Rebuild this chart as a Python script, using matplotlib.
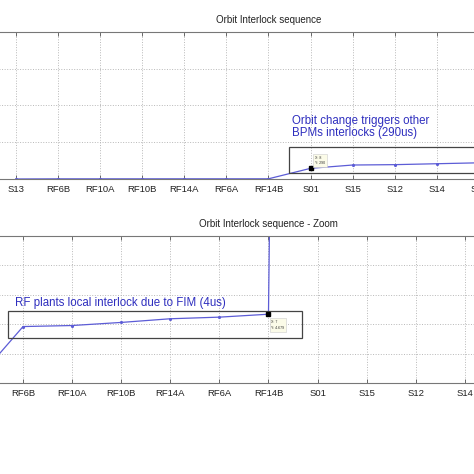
import matplotlib
matplotlib.use('Agg')
import matplotlib.pyplot as plt
from matplotlib.patches import Rectangle

plt.rcParams['font.family'] = ['Liberation Sans', 'DejaVu Sans']

# ---- data ----
labels = ['S13', 'RF6B', 'RF10A', 'RF10B', 'RF14A', 'RF6A', 'RF14B',
          'S01', 'S15', 'S12', 'S14', 'S16', 'S03']
x_index = list(range(1, 14))
delay_us = [0, 3.84, 3.91, 4.12, 4.37, 4.48, 4.679, 290, 380, 390, 415, 440, 455]

top_title = 'Orbit Interlock sequence'
zoom_title = 'Orbit Interlock sequence - Zoom'
top_note = ['Orbit change triggers other', 'BPMs interlocks (290us)']
zoom_note = 'RF plants local interlock due to FIM (4us)'

line_color = '#5c5cd6'
text_color = '#2f2fbf'

fig = plt.figure(figsize=(4.74, 4.74), dpi=100)
fig.patch.set_facecolor('white')


def style(ax, xlim, ylim, yticks):
    ax.set_xlim(*xlim)
    ax.set_ylim(*ylim)
    ax.set_xticks(x_index)
    ax.set_xticklabels(labels, fontsize=6.8, color='#222222')
    ax.set_yticks(yticks)
    ax.set_yticklabels([])
    ax.grid(True, linestyle=':', color='#b8b8b8', linewidth=0.7)
    ax.tick_params(direction='in', top=True, right=True, length=3,
                   width=0.6, color='#555555', pad=4)
    for s in ax.spines.values():
        s.set_color('#777777')
        s.set_linewidth(0.8)


# ---- top axes ----
ax1 = fig.add_axes([-0.0549, 0.6224, 1.2426, 0.3101])
style(ax1, (0, 14), (0, 4000), [0, 1000, 2000, 3000, 4000])
ax1.plot(x_index, delay_us, color=line_color, linewidth=0.9,
         marker='.', markersize=2.5)
ax1.set_title(top_title, fontsize=7, pad=6.5, color='#222222')
ax1.add_patch(Rectangle((7.49, 163), 14 - 7.49, 871 - 163, fill=False,
                        edgecolor='#444444', linewidth=0.9, zorder=3))
ax1.text(7.55, 1497, top_note[0], color=text_color, fontsize=8.3,
         va='baseline', ha='left')
ax1.text(7.55, 1160, top_note[1], color=text_color, fontsize=8.3,
         va='baseline', ha='left')
ax1.plot([x_index[7]], [delay_us[7]], marker='s', color='black',
         markersize=2.5, linestyle='none', zorder=5)
ax1.text(8.1, 370, 'X: 8\nY: 290', fontsize=2.6, color='#333333',
         va='bottom', ha='left', linespacing=1.6,
         bbox=dict(boxstyle='square,pad=0.5', facecolor='#fbfbe8',
                   edgecolor='#cccccc', linewidth=0.4), zorder=6)

# ---- zoom axes ----
ax2 = fig.add_axes([-0.0549, 0.1920, 1.2426, 0.3101])
style(ax2, (1, 13), (0, 10), [0, 2, 4, 6, 8, 10])
ax2.plot(x_index, delay_us, color=line_color, linewidth=0.9,
         marker='.', markersize=2.5)
ax2.set_title(zoom_title, fontsize=7, pad=6.5, color='#222222')
ax2.add_patch(Rectangle((1.70, 3.08), 7.68 - 1.70, 4.88 - 3.08, fill=False,
                        edgecolor='#444444', linewidth=0.9, zorder=3))
ax2.text(1.83, 5.24, zoom_note, color=text_color, fontsize=8.3,
         va='baseline', ha='left')
ax2.plot([x_index[6]], [delay_us[6]], marker='s', color='black',
         markersize=2.5, linestyle='none', zorder=5)
ax2.text(7.06, 3.6, 'X: 7\nY: 4.679', fontsize=2.6, color='#333333',
         va='bottom', ha='left', linespacing=1.6,
         bbox=dict(boxstyle='square,pad=0.5', facecolor='#fbfbe8',
                   edgecolor='#cccccc', linewidth=0.4), zorder=6)

fig.savefig('out.png', dpi=100)
